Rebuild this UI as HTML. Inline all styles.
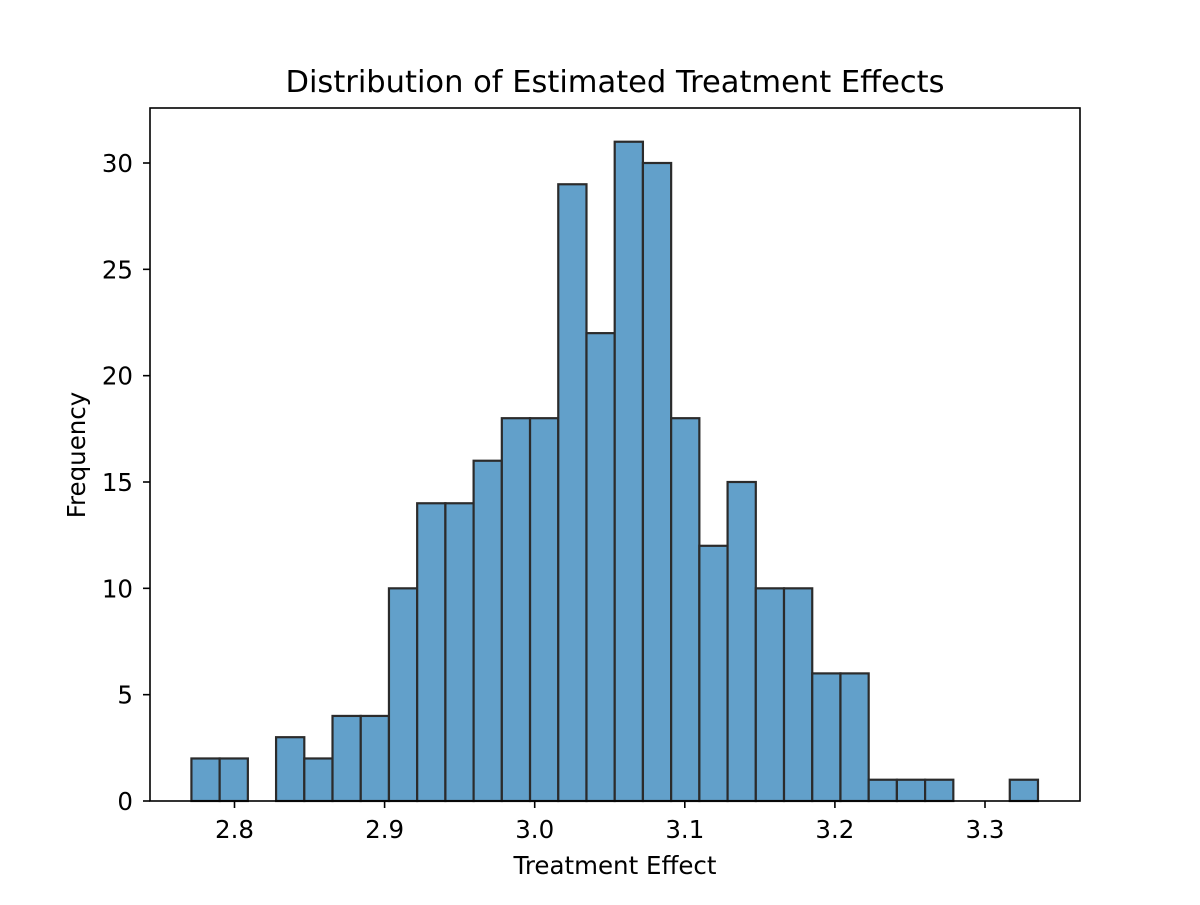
<!DOCTYPE html>
<html><head><meta charset="utf-8"><style>body{margin:0;background:#fff}svg text{font-family:"DejaVu Sans","Liberation Sans",sans-serif;fill:#000}</style></head>
<body>
<svg id="chart" width="1200" height="900" xmlns="http://www.w3.org/2000/svg">
<rect width="1200" height="900" fill="#fff"/>
<g id="bars"></g>
<g id="axes"></g>
<text x="615" y="92" font-size="30.5" text-anchor="middle">Distribution of Estimated Treatment Effects</text>
<text x="615" y="874" font-size="24.5" text-anchor="middle">Treatment Effect</text>
<text x="85" y="455" font-size="24.5" text-anchor="middle" transform="rotate(-90 85 455)">Frequency</text>
</svg>
<script>
const counts=[2,2,0,3,2,4,4,10,14,14,16,18,18,29,22,31,30,18,12,15,10,10,6,6,1,1,1,0,0,1];
const binStart=2.7713;
const binEnd=3.3353;
const xTicks=[2.8,2.9,3.0,3.1,3.2,3.3];
const xTickLabels=["2.8","2.9","3.0","3.1","3.2","3.3"];
const yTicks=[0,5,10,15,20,25,30];
const yTickLabels=["0","5","10","15","20","25","30"];
const NS="http://www.w3.org/2000/svg";
const L=150,R=1080,T=108,B=801;
function xs(v){return 234.5+(v-2.8)*1501;}
function ys(v){return B-v*(801-163)/30;}
const bars=document.getElementById('bars'),axes=document.getElementById('axes');
function mk(tag,attrs,parent){const e=document.createElementNS(NS,tag);for(const k in attrs)e.setAttribute(k,attrs[k]);parent.appendChild(e);return e;}
const w=(binEnd-binStart)/counts.length;
counts.forEach((c,i)=>{if(c<=0)return;const x0=xs(binStart+i*w),x1=xs(binStart+(i+1)*w);
const r=mk('rect',{x:x0,y:ys(c),width:x1-x0,height:ys(0)-ys(c),fill:'#62a0ca',stroke:'#2b2b2b','stroke-width':2.2},bars);

});
const fr=mk('rect',{x:L,y:T,width:R-L,height:B-T,fill:'none',stroke:'#000','stroke-width':1.6},axes);


xTicks.forEach((v,i)=>{const x=xs(v);mk('line',{x1:x,x2:x,y1:B,y2:B+7,stroke:'#000','stroke-width':1.6},axes);
const t=mk('text',{x:x,y:B+37,'font-size':24.5,'text-anchor':'middle'},axes);t.textContent=xTickLabels[i];

});
yTicks.forEach((v,i)=>{const y=ys(v);mk('line',{x1:L-7,x2:L,y1:y,y2:y,stroke:'#000','stroke-width':1.6},axes);
const t=mk('text',{x:L-17,y:y+9,'font-size':24.5,'text-anchor':'end'},axes);t.textContent=yTickLabels[i];

});
</script>
</body></html>
